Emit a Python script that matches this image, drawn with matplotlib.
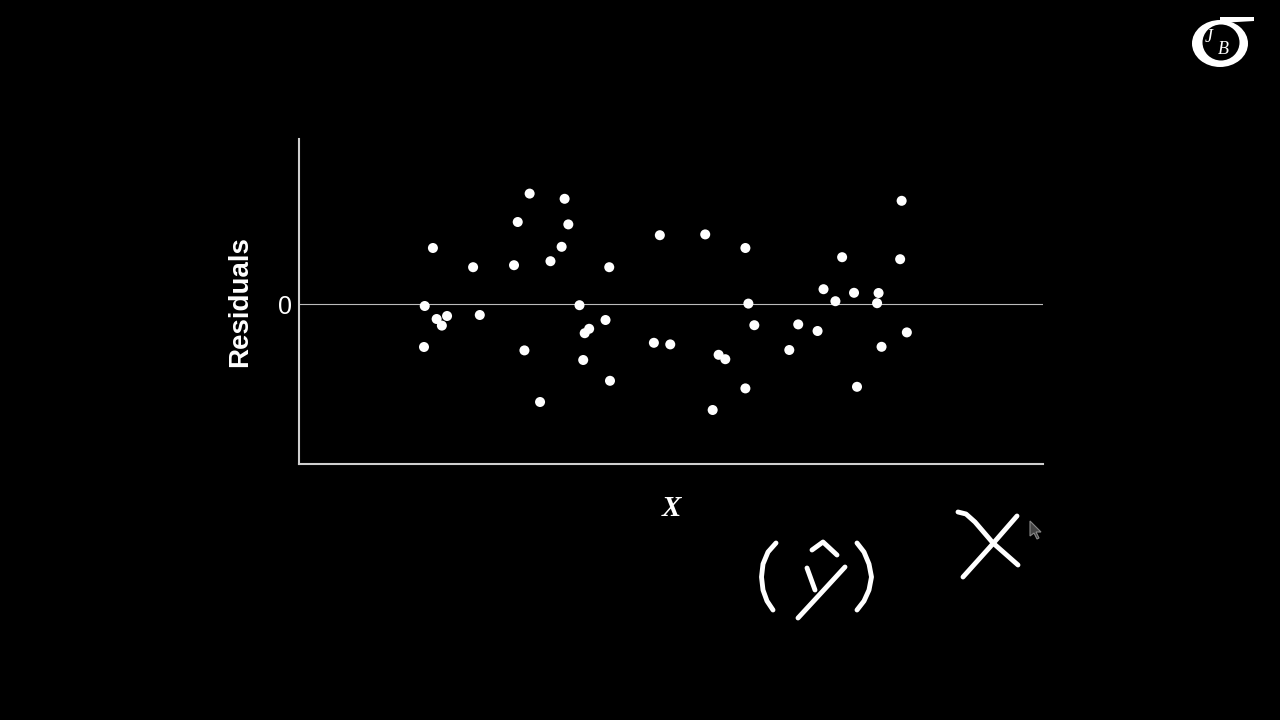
import numpy as np
import matplotlib
matplotlib.use('Agg')
import matplotlib.pyplot as plt
from matplotlib.patches import Ellipse, Polygon

# fitted-x positions and residuals
x_vals = [31.0, 35.7, 29.4, 36.2, 18.0, 35.3, 23.4, 28.9, 33.8, 41.7,
          48.5, 16.9, 37.7, 18.5, 19.9, 19.2, 24.3, 41.2, 39.0, 38.4,
          16.8, 30.3, 38.2, 47.7, 41.8, 32.4, 81.0, 54.6, 60.0, 73.0,
          80.8, 70.5, 74.6, 77.9, 72.1, 77.7, 60.4, 61.2, 67.1, 69.7,
          81.7, 49.9, 65.9, 78.3, 56.4, 57.3, 60.0, 75.0, 55.6]
residuals = [2.76, 2.63, 2.05, 1.99, 1.40, 1.43, 0.92, 0.97, 1.07, 0.92,
             1.72, -0.05, -0.03, -0.375, -0.30, -0.54, -0.275, -0.40, -0.62, -0.73,
             -1.075, -1.16, -1.40, -0.97, -1.92, -2.45, 2.58, 1.74, 1.40, 1.17,
             1.12, 0.37, 0.28, 0.275, 0.07, 0.02, 0.01, -0.53, -0.51, -0.675,
             -0.71, -1.01, -1.15, -1.07, -1.27, -1.38, -2.11, -2.07, -2.65]

plt.rcParams['font.family'] = ['Liberation Sans', 'DejaVu Sans']

fig = plt.figure(figsize=(12.8, 7.2), dpi=100, facecolor='black')

# main residual plot
ax = fig.add_axes([299 / 1280, 1 - 464 / 720, 744 / 1280, 325 / 720])
ax.set_facecolor('black')
ax.scatter(x_vals, residuals, s=52, color='white', edgecolors='none', zorder=3)
ax.axhline(0, color='#bbbbbb', linewidth=0.8, zorder=1)
ax.set_xlim(0, 100)
ax.set_ylim(-4.0, 4.125)
for side in ['top', 'right']:
    ax.spines[side].set_visible(False)
for side in ['left', 'bottom']:
    ax.spines[side].set_color('#cfcfcf')
    ax.spines[side].set_linewidth(1.5)
ax.set_xticks([])
ax.set_yticks([0])
ax.set_yticklabels(['0'], color='white', fontsize=18)
ax.tick_params(axis='y', length=0, pad=5)
ax.set_ylabel('Residuals', color='white', fontsize=20, weight='bold', labelpad=18)
ax.set_xlabel('X', color='white', fontsize=21, family='Liberation Serif',
              style='italic', weight='bold', labelpad=22)

# overlay in pixel coordinates for the pen strokes and the logo
ov = fig.add_axes([0, 0, 1, 1], facecolor='none')
ov.set_xlim(0, 1280)
ov.set_ylim(720, 0)
ov.axis('off')

ink = dict(color='white', linewidth=3.5, solid_capstyle='round', solid_joinstyle='round')
strokes = [
    ([776, 768, 763, 761.5, 763, 767, 773], [543, 552, 564, 577, 590, 601, 610]),   # (
    ([812, 823, 837], [550, 542, 555]),                                              # hat
    ([807, 811, 815], [568, 579, 590]),                                              # y left arm
    ([845, 822, 798], [567, 592, 618]),                                              # y long stroke
    ([857, 864, 869, 871.5, 869, 864, 857], [543, 552, 564, 577, 590, 601, 610]),   # )
    ([958, 966, 975, 993, 1018], [512, 514, 522, 543, 565]),                         # X stroke 1
    ([1017, 990, 963], [516, 547, 577]),                                             # X stroke 2
]
for sx, sy in strokes:
    ov.plot(sx, sy, **ink)

# mouse cursor
ov.add_patch(Polygon([[1030, 521], [1030, 536], [1034, 533], [1037, 539],
                      [1039, 538], [1036, 532], [1041, 532]],
                     closed=True, facecolor='#444444', edgecolor='#888888', linewidth=0.8))

# sigma logo
ov.add_patch(Ellipse((1220, 43.5), 56, 47, facecolor='white', edgecolor='none'))
ov.add_patch(Polygon([[1220, 17], [1254, 17], [1254, 21], [1220, 23]],
                     closed=True, facecolor='white', edgecolor='none'))
ov.add_patch(Ellipse((1221, 42.5), 37, 36, facecolor='black', edgecolor='none'))
ov.text(1209, 38, 'J', color='white', fontsize=13, style='italic',
        family='Liberation Serif', ha='center', va='center')
ov.text(1223, 50, 'B', color='white', fontsize=13, style='italic',
        family='Liberation Serif', ha='center', va='center')

fig.savefig('out.png', dpi=100, facecolor='black')
